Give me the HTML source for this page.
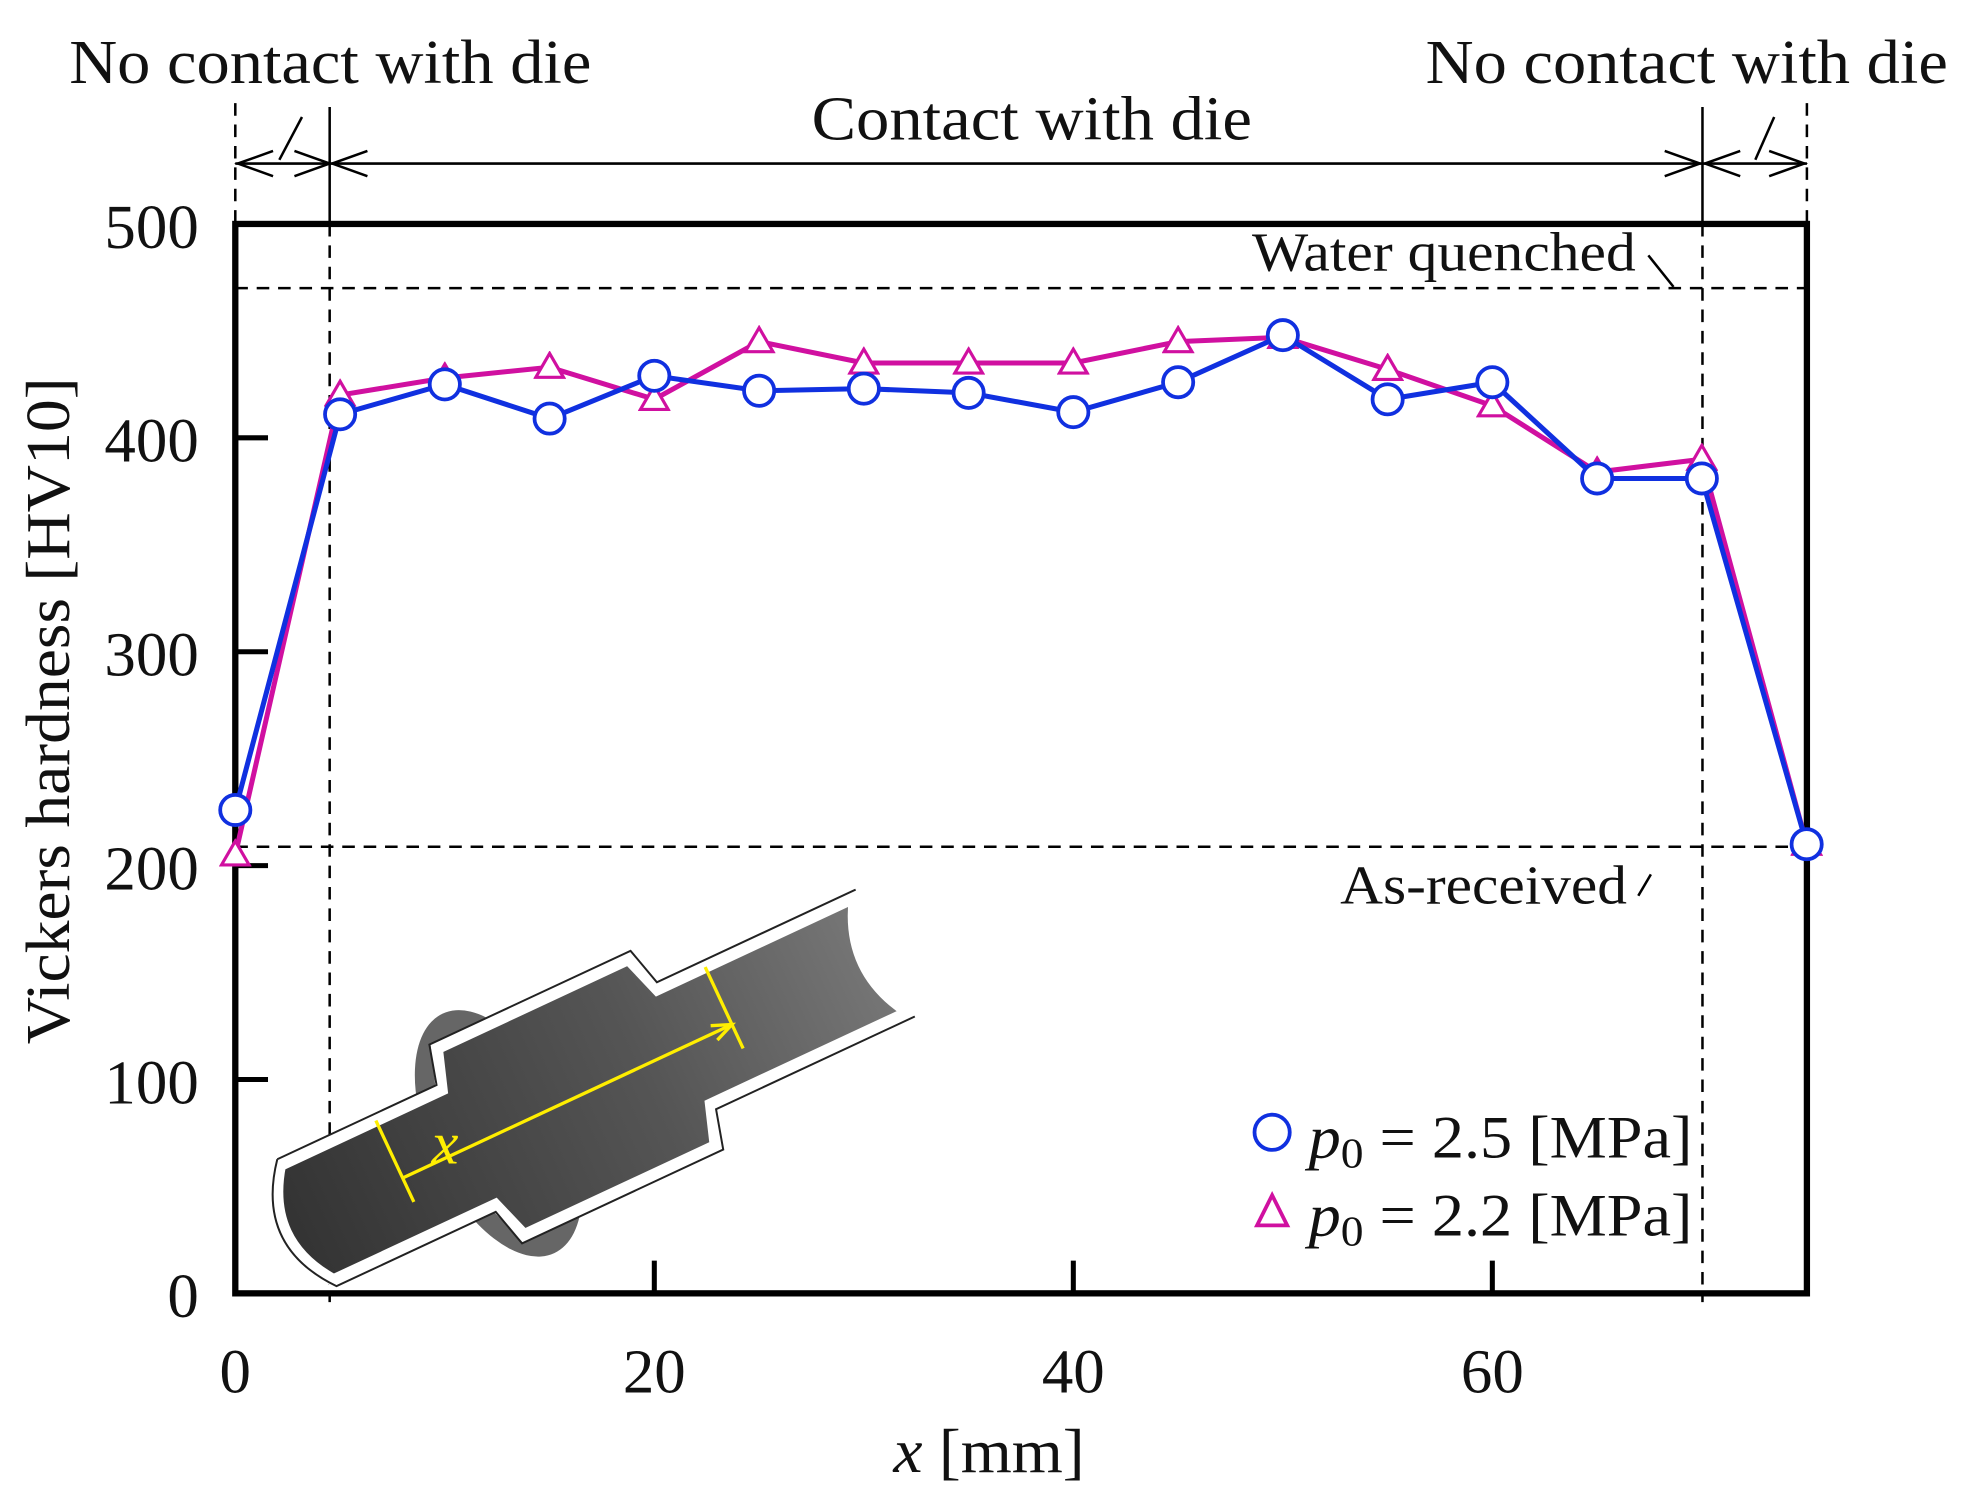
<!DOCTYPE html>
<html><head><meta charset="utf-8"><style>
html,body{margin:0;padding:0;background:#fff;}
svg{display:block;}
text{font-family:"Liberation Serif",serif;fill:#111;}
</style></head><body>
<svg width="1973" height="1511" viewBox="0 0 1568 1201" preserveAspectRatio="none" xmlns="http://www.w3.org/2000/svg">
<defs>
<linearGradient id="g" x1="0" y1="0" x2="1" y2="0">
<stop offset="0" stop-color="#333"/><stop offset="0.6" stop-color="#555"/><stop offset="1" stop-color="#777"/>
</linearGradient>
<marker id="t" viewBox="-13 -13 26 26" markerWidth="26" markerHeight="26" markerUnits="userSpaceOnUse">
<polygon points="0,-11 11,8 -11,8" fill="#fff" stroke="#d010a0" stroke-width="2.5"/></marker>
<marker id="c" viewBox="-15 -15 30 30" markerWidth="30" markerHeight="30" markerUnits="userSpaceOnUse">
<circle r="12" fill="#fff" stroke="#1030e0" stroke-width="3"/></marker>
</defs>

<text x="55" y="66" font-size="50" textLength="415" lengthAdjust="spacingAndGlyphs">No contact with die</text>
<text x="1133" y="66" font-size="50" textLength="415" lengthAdjust="spacingAndGlyphs">No contact with die</text>
<text x="645" y="111" font-size="50" textLength="350" lengthAdjust="spacingAndGlyphs">Contact with die</text>
<g stroke="#000" stroke-width="2" fill="none">
<line x1="187" y1="130" x2="1436" y2="130"/>
<path d="M217,120 L189,130 L217,140 M234,120 L262,130 L234,140 M292,120 L264,130 L292,140 M1323,120 L1351,130 L1323,140 M1383,120 L1355,130 L1383,140 M1406,120 L1434,130 L1406,140"/>
<line x1="222" y1="127" x2="240" y2="93"/>
<line x1="1395" y1="127" x2="1410" y2="93"/>
<line x1="262" y1="85" x2="262" y2="178"/>
<line x1="1353" y1="85" x2="1353" y2="178"/>
<g stroke-dasharray="10,7">
<line x1="187" y1="82" x2="187" y2="178"/>
<line x1="1436" y1="82" x2="1436" y2="178"/>
<line x1="262" y1="178" x2="262" y2="1035"/>
<line x1="1353" y1="178" x2="1353" y2="1035"/>
<line x1="187" y1="229" x2="1436" y2="229"/>
<line x1="187" y1="673" x2="1436" y2="673"/>
</g>
<line x1="1310" y1="203" x2="1330" y2="228"/>
<line x1="1302" y1="712" x2="1312" y2="695"/>
</g>
<text x="995" y="215" font-size="44" textLength="305" lengthAdjust="spacingAndGlyphs">Water quenched</text>
<text x="1065" y="718" font-size="44" textLength="228" lengthAdjust="spacingAndGlyphs">As-received</text>

<g transform="translate(458,872) rotate(-25) scale(1.05)">
<ellipse cx="-65" cy="0" rx="52" ry="100" fill="#666"/>
<path d="M-225,-48 L-90,-48 L-80,-78 L80,-78 L90,-48 L255,-48 Q225,0 255,48 L90,48 L80,78 L-80,78 L-90,48 L-225,48 Q-260,0 -225,-48 Z" fill="url(#g)" stroke="#fff" stroke-width="9"/>
<path d="M-225,-53 L-92,-53 L-84,-83 L84,-83 L92,-53 L258,-53 M258,53 L92,53 L84,83 L-84,83 L-92,53 L-225,53 Q-268,0 -225,-53" fill="none" stroke="#222" stroke-width="1.5"/>
<g stroke="#ffee00" stroke-width="2.5" fill="none">
<line x1="-145" y1="-48" x2="-145" y2="20"/>
<line x1="130" y1="-48" x2="130" y2="20"/>
<line x1="-145" y1="0" x2="128" y2="0"/>
<path d="M115,-6 L130,0 L115,6"/>
</g>
</g>
<text x="343" y="925" font-size="48" font-style="italic" style="fill:#ffee00">x</text>

<rect x="187" y="178" width="1249" height="850" fill="none" stroke="#000" stroke-width="5"/>
<g stroke="#000" stroke-width="4">
<line x1="520" y1="1028" x2="520" y2="1002"/>
<line x1="853" y1="1028" x2="853" y2="1002"/>
<line x1="1186" y1="1028" x2="1186" y2="1002"/>
<line x1="187" y1="858" x2="213" y2="858"/>
<line x1="187" y1="688" x2="213" y2="688"/>
<line x1="187" y1="518" x2="213" y2="518"/>
<line x1="187" y1="348" x2="213" y2="348"/>
</g>
<g font-size="50" text-anchor="end">
<text x="158" y="1047">0</text>
<text x="158" y="877">100</text>
<text x="158" y="707">200</text>
<text x="158" y="537">300</text>
<text x="158" y="367">400</text>
<text x="158" y="197">500</text>
</g>
<g font-size="50" text-anchor="middle">
<text x="187" y="1107">0</text>
<text x="520" y="1107">20</text>
<text x="853" y="1107">40</text>
<text x="1186" y="1107">60</text>
</g>
<text x="710" y="1170" font-size="50" textLength="152" lengthAdjust="spacingAndGlyphs"><tspan font-style="italic">x</tspan> [mm]</text>
<text transform="translate(55,565) rotate(-90)" font-size="50" text-anchor="middle" textLength="530" lengthAdjust="spacingAndGlyphs">Vickers hardness [HV10]</text>

<polyline fill="none" stroke="#d010a0" stroke-width="4" marker-start="url(#t)" marker-mid="url(#t)" marker-end="url(#t)"
points="187,679.5 270.3,314 353.5,300.4 436.8,291.9 520,317.4 603.3,271.5 686.5,288.5 769.8,288.5 853,288.5 936.3,271.5 1019.5,268.1 1102.8,293.6 1186,322.5 1269.3,375.2 1352.5,365 1435.8,671"/>
<polyline fill="none" stroke="#1030e0" stroke-width="4" marker-start="url(#c)" marker-mid="url(#c)" marker-end="url(#c)"
points="187,643.8 270.3,329.3 353.5,305.5 436.8,332.7 520,298.7 603.3,310.6 686.5,308.9 769.8,312.3 853,327.6 936.3,303.8 1019.5,266.4 1102.8,317.4 1186,303.8 1269.3,380.3 1352.5,380.3 1435.8,671"/>

<circle cx="1011" cy="900" r="14" fill="#fff" stroke="#1030e0" stroke-width="3"/>
<polygon points="1011,950 1023,974 999,974" fill="#fff" stroke="#d010a0" stroke-width="3"/>
<text x="1040" y="920" font-size="48" textLength="305" lengthAdjust="spacingAndGlyphs"><tspan font-style="italic">p</tspan><tspan font-size="34" dy="8">0</tspan><tspan dy="-8"> = 2.5 [MPa]</tspan></text>
<text x="1040" y="982" font-size="48" textLength="305" lengthAdjust="spacingAndGlyphs"><tspan font-style="italic">p</tspan><tspan font-size="34" dy="8">0</tspan><tspan dy="-8"> = 2.2 [MPa]</tspan></text>
</svg>
</body></html>
